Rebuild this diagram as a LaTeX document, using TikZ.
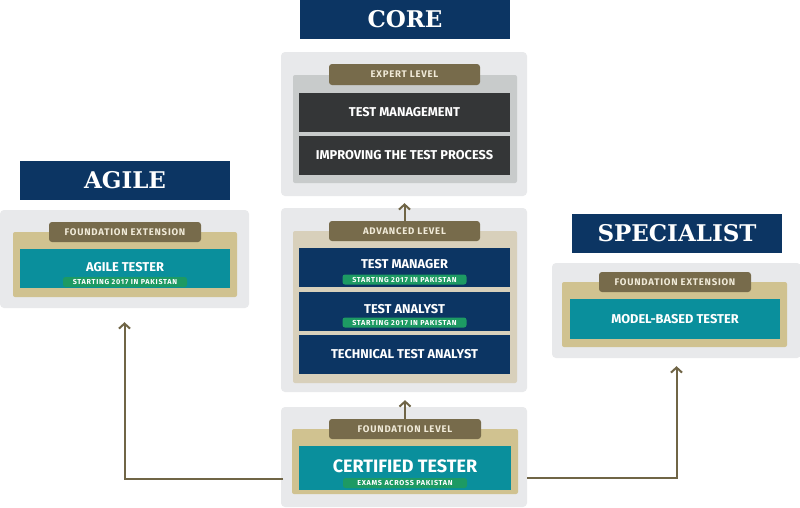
\documentclass[tikz,border=0pt]{standalone}
\usepackage{xcolor}
\usepackage{fontspec}
\usetikzlibrary{arrows.meta}

\setsansfont{Fira Sans}
\newfontfamily\headfont{DejaVu Serif}
\newfontfamily\tagfont{Fira Sans}[LetterSpace=8.0]
\newfontfamily\pillfont{Fira Sans}[LetterSpace=10.0]

\definecolor{navy}{HTML}{0C3563}
\definecolor{panelgrey}{HTML}{E8E9EB}
\definecolor{traygrey}{HTML}{C8CBCB}
\definecolor{tan}{HTML}{D0C290}
\definecolor{lighttan}{HTML}{D8D0BB}
\definecolor{olive}{HTML}{776B4B}
\definecolor{cream}{HTML}{F0EAD8}
\definecolor{teal}{HTML}{0A8F9C}
\definecolor{pillgreen}{HTML}{1D9A63}
\definecolor{darkbox}{HTML}{343637}
\definecolor{linecol}{HTML}{706546}

\tikzset{
  header/.style={fill=navy, text=white, minimum width=210pt, minimum height=39pt, inner sep=0pt,
    font=\headfont\bfseries\fontsize{23}{23}\selectfont},
  panel/.style={fill=panelgrey, rounded corners=4pt, inner sep=0pt},
  tray/.style={fill=tan, rounded corners=2pt, inner sep=0pt},
  tag/.style={fill=olive, text=cream, rounded corners=3pt, minimum width=152pt, minimum height=20pt,
    inner sep=0pt, font=\tagfont\bfseries\fontsize{9.6}{9.6}\selectfont},
  box/.style={minimum width=211pt, minimum height=39pt, inner sep=0pt, text=white,
    font=\sffamily\bfseries\fontsize{12.8}{12.8}\selectfont},
  boxtitle/.style={inner sep=0pt, text=white, font=\sffamily\bfseries\fontsize{12.8}{12.8}\selectfont},
  pill/.style={fill=pillgreen, text=white, rounded corners=2.5pt, minimum width=124pt, minimum height=10pt,
    inner sep=0pt, font=\pillfont\bfseries\fontsize{7.2}{7.2}\selectfont},
  link/.style={draw=linecol, line width=2pt, -{Straight Barb[length=5pt,width=11pt]}},
}

\begin{document}
\begin{tikzpicture}[x=1pt,y=-1pt]
\useasboundingbox (0,0) rectangle (800,507);
\fill[white] (0,0) rectangle (800,507);

\coordinate (lfoot) at (283,479);
\coordinate (rfoot) at (527,478);

% core
\node[header] (corehead) at (405,19) {CORE};
\node[panel, minimum width=246pt, minimum height=144pt] (corepanel) at (404,124) {};
\node[tray, fill=traygrey, minimum width=224pt, minimum height=108pt] (experttray) at (405,129) {};
\node[tag, minimum width=151pt, minimum height=21pt] (experttag) at (404.5,74.5) {EXPERT LEVEL};
\node[box, fill=darkbox] (mgmt) at (404.5,112.5) {TEST MANAGEMENT};
\node[box, fill=darkbox] (improve) at (404.5,155.5) {IMPROVING THE TEST PROCESS};

\node[panel, minimum width=246pt, minimum height=184pt] (advpanel) at (404,300) {};
\node[tray, fill=lighttan, minimum width=224pt, minimum height=152pt] (advtray) at (405,307) {};
\node[tag, minimum width=151pt] (advtag) at (404.5,231) {ADVANCED LEVEL};
\node[box, fill=navy] (manager) at (404.5,267.5) {};
\node[boxtitle] (managertitle) at ([yshift=3pt]manager.center) {TEST MANAGER};
\node[pill] (managerpill) at ([yshift=-12pt]manager.center) {STARTING 2017 IN PAKISTAN};
\node[box, fill=navy] (analyst) at (404.5,311.5) {};
\node[boxtitle] (analysttitle) at ([yshift=2pt]analyst.center) {TEST ANALYST};
\node[pill] (analystpill) at ([yshift=-11pt]analyst.center) {STARTING 2017 IN PAKISTAN};
\node[box, fill=navy] (technical) at (404.5,354.5) {TECHNICAL TEST ANALYST};

\node[panel, minimum width=246pt, minimum height=100pt] (fpanel) at (404,457) {};
\node[tray, minimum width=226pt, minimum height=65pt] (ftray) at (405,461.5) {};
\node[tag] (ftag) at (405,429) {FOUNDATION LEVEL};
\node[box, fill=teal, minimum width=212pt, minimum height=44pt] (certified) at (405,468) {};
\node[boxtitle, font=\sffamily\bfseries\fontsize{18}{18}\selectfont] (certtitle) at ([yshift=2pt]certified.center) {CERTIFIED TESTER};
\node[pill] (certpill) at ([yshift=-15pt]certified.center) {EXAMS ACROSS PAKISTAN};

\draw[link, shorten >=7pt] (advtag.north) -- (advtag.north |- corepanel.south);
\draw[link, shorten >=8pt] (ftag.north) -- (ftag.north |- advpanel.south);

% agile
\node[header] (agilehead) at (125,180.5) {AGILE};
\node[panel, minimum width=249pt, minimum height=98pt] (agilepanel) at (124.5,259) {};
\node[tray, minimum width=224pt, minimum height=65pt] (agiletray) at (125,264.5) {};
\node[tag] (agiletag) at (125,232) {FOUNDATION EXTENSION};
\node[box, fill=teal, minimum width=210pt] (agiletester) at (125,268.5) {};
\node[boxtitle] (agiletitle) at ([yshift=1pt]agiletester.center) {AGILE TESTER};
\node[pill] (agilepill) at ([yshift=-13.5pt]agiletester.center) {STARTING 2017 IN PAKISTAN};

% specialist
\node[header] (spechead) at (677,233.5) {SPECIALIST};
\node[panel, minimum width=249pt, minimum height=95pt] (specpanel) at (676.5,310.5) {};
\node[tray, minimum width=225pt, minimum height=65pt] (spectray) at (674.5,314.5) {};
\node[tag] (spectag) at (675,282) {FOUNDATION EXTENSION};
\node[box, fill=teal, minimum width=210pt, minimum height=40pt] (modelbased) at (675,319) {MODEL-BASED TESTER};

\draw[link, shorten >=14pt] (lfoot) -| (agilepanel.south);
\draw[link, shorten >=8pt] (rfoot) -| (specpanel.south);
\end{tikzpicture}
\end{document}
